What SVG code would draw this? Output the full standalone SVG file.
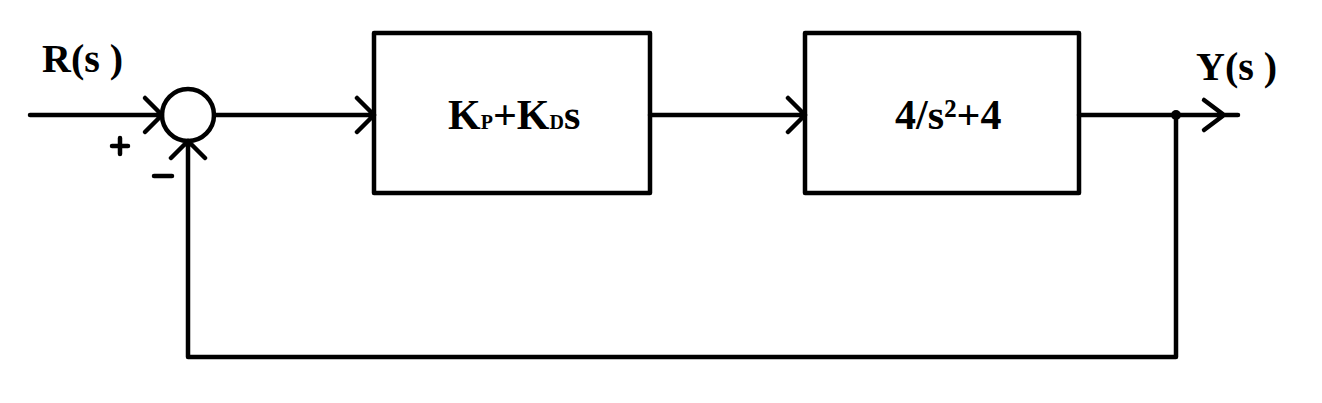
<svg xmlns="http://www.w3.org/2000/svg" width="1322" height="403" viewBox="0 0 1322 403">
<style>
.l{fill:none;stroke:#000;stroke-width:4.5;stroke-linecap:round;stroke-linejoin:round}
.t{font-family:"Liberation Serif",serif;font-weight:bold;fill:#000}
</style>
<rect width="1322" height="403" fill="#fff"/>
<g id="sum"><circle class="l" cx="188" cy="115" r="26"/></g>
<g id="ctrl"><rect class="l" x="374" y="33" width="276" height="160"/>
<text class="t" x="448" y="129" font-size="42">K<tspan font-size="20">P</tspan>+K<tspan font-size="20">D</tspan>s</text></g>
<g id="plant"><rect class="l" x="805" y="33" width="274" height="160"/>
<text class="t" x="895" y="129" font-size="42">4/s²+4</text></g>
<g id="labels">
<text class="t" x="42" y="72" font-size="40">R(s )</text>
<text class="t" x="1196" y="80" font-size="40">Y(s )</text>
<path class="l" d="M112 146H128M120 138V154"/>
<path class="l" d="M154 176H172"/>
</g>
<g id="connectors">
<path class="l" d="M30 115H162M145 98L162 115L145 132"/>
<path class="l" d="M214 115H374M357 98L374 115L357 132"/>
<path class="l" d="M650 115H805M788 98L805 115L788 132"/>
<path class="l" d="M1079 115H1238M1204 100L1224 115L1204 130"/>
<path class="l" d="M1176 115V357H188V141M171 158L188 141L205 158"/>
<circle cx="1176" cy="115" r="5"/>
</g>
</svg>
